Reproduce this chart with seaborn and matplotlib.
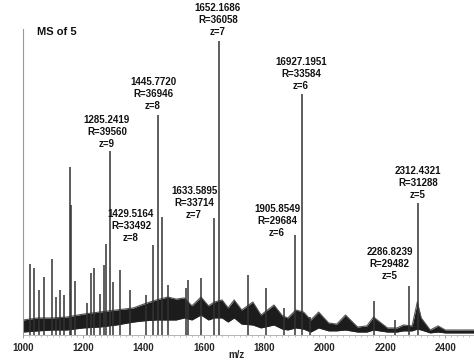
import matplotlib
matplotlib.use("Agg")
import matplotlib.pyplot as plt
import pandas as pd
import seaborn as sns
from matplotlib.ticker import MultipleLocator

# centroid peaks (m/z, relative intensity)
peak_mz = [1022, 1036, 1053, 1069, 1096, 1109, 1122, 1135, 1155, 1158, 1172, 1211,
           1224, 1234, 1254, 1267, 1274, 1287, 1300, 1323, 1356, 1409, 1432, 1449,
           1462, 1482, 1541, 1548, 1591, 1634, 1650, 1746, 1805, 1865, 1901, 1924,
           1950, 2162, 2234, 2280, 2308]
peak_int = [24.0, 22.7, 15.3, 19.7, 25.8, 12.9, 15.3, 13.6, 57.0, 44.0, 18.3, 11.0,
            21.0, 22.7, 14.0, 23.7, 31.0, 62.4, 18.0, 22.0, 15.3, 13.6, 30.5, 74.6,
            40.0, 17.0, 16.0, 18.6, 19.3, 39.7, 100.0, 20.3, 16.0, 9.2, 33.9, 82.0,
            6.0, 11.5, 5.0, 16.6, 44.7]

# noisy baseline band (upper / lower edge)
band_mz = [1000, 1050, 1100, 1145, 1200, 1254, 1310, 1366, 1400, 1442, 1480, 1508,
           1535, 1560, 1590, 1615, 1634, 1660, 1680, 1700, 1725, 1762, 1789, 1832,
           1860, 1878, 1904, 1930, 1954, 1980, 2013, 2040, 2069, 2109, 2140, 2162,
           2208, 2240, 2261, 2290, 2307, 2320, 2350, 2376, 2400, 2426, 2495]
band_upper = [5.1, 5.8, 5.8, 6.1, 7.1, 7.8, 8.5, 9.2, 10.5, 11.9, 12.9, 12.2,
              12.6, 9.9, 12.9, 9.9, 11.2, 11.9, 9.2, 11.9, 8.5, 11.2, 6.8, 10.2,
              6.5, 5.8, 8.5, 7.8, 5.1, 7.8, 4.1, 3.7, 6.8, 2.7, 3.1, 6.1,
              2.4, 2.4, 3.4, 3.1, 11.2, 5.8, 1.7, 3.1, 1.7, 1.7, 1.7]
band_lower = [1.0, 1.4, 1.7, 1.7, 2.4, 2.7, 3.4, 4.4, 4.8, 5.1, 5.1, 5.1,
              5.8, 5.1, 6.8, 5.1, 5.8, 5.8, 4.4, 5.8, 3.7, 3.4, 2.4, 3.4,
              2.0, 1.7, 2.4, 2.0, 1.0, 2.4, 1.4, 1.4, 1.7, 1.0, 1.0, 1.7,
              1.0, 1.0, 1.4, 1.4, 2.0, 1.7, 0.7, 1.0, 0.7, 0.7, 0.7]

# annotated peaks: label text and where the label sits
ann_text = ["1652.1686\nR=36058\nz=7", "1445.7720\nR=36946\nz=8",
            "1285.2419\nR=39560\nz=9", "16927.1951\nR=33584\nz=6",
            "2312.4321\nR=31288\nz=5", "1905.8549\nR=29684\nz=6",
            "2286.8239\nR=29482\nz=5", "1633.5895\nR=33714\nz=7",
            "1429.5164\nR=33492\nz=8"]
ann_x = [1646, 1431, 1278, 1921, 2309, 1842, 2216, 1567, 1358]
ann_y = [112.9, 87.8, 74.8, 94.6, 57.5, 44.6, 29.9, 50.7, 42.9]

sns.set_theme(style="white")
plt.rcParams["font.family"] = ["Liberation Sans", "DejaVu Sans"]

fig = plt.figure(figsize=(4.74, 3.61), dpi=100)
ax = fig.add_axes([0.0485, 0.072, 0.9515, 0.848])

band = pd.DataFrame({"mz": band_mz, "upper": band_upper, "lower": band_lower})
ax.fill_between(band["mz"], band["lower"], band["upper"], color="#1c1c1c", lw=0)
sns.lineplot(data=band, x="mz", y="upper", ax=ax, color="#555555", lw=0.8)
sns.lineplot(data=band, x="mz", y="lower", ax=ax, color="#222222", lw=0.6)

ax.vlines(peak_mz, 0, peak_int, color="#333333", lw=1.1)

for t, x, y in zip(ann_text, ann_x, ann_y):
    ax.text(x, y, t, ha="center", va="top", fontsize=7, fontweight="bold",
            linespacing=1.25, color="#111111", clip_on=False)
ax.text(1046, 103, "MS of 5", ha="left", va="center", fontsize=8,
        fontweight="bold", color="#111111")

ax.set_xlim(1000, 2495)
ax.set_ylim(0, 104)
ax.set_yticks([])
ax.set_ylabel("")
ax.set_xticks([1000, 1200, 1400, 1600, 1800, 2000, 2200, 2400])
ax.xaxis.set_minor_locator(MultipleLocator(20))
ax.tick_params(axis="x", which="major", length=2, width=0.6, color="#888888",
               pad=4, labelsize=7, bottom=True)
ax.tick_params(axis="x", which="minor", length=1.5, width=0.5, color="#aaaaaa",
               bottom=True)
for lbl in ax.get_xticklabels():
    lbl.set_fontweight("bold")
ax.set_xlabel("m/z", fontsize=7, fontweight="bold")
ax.xaxis.set_label_coords(0.474, -0.048)

for s in ["top", "right"]:
    ax.spines[s].set_visible(False)
ax.spines["left"].set_color("#999999")
ax.spines["left"].set_linewidth(0.8)
ax.spines["bottom"].set_color("#aaaaaa")
ax.spines["bottom"].set_linewidth(0.6)

fig.savefig("out.png", dpi=100)
